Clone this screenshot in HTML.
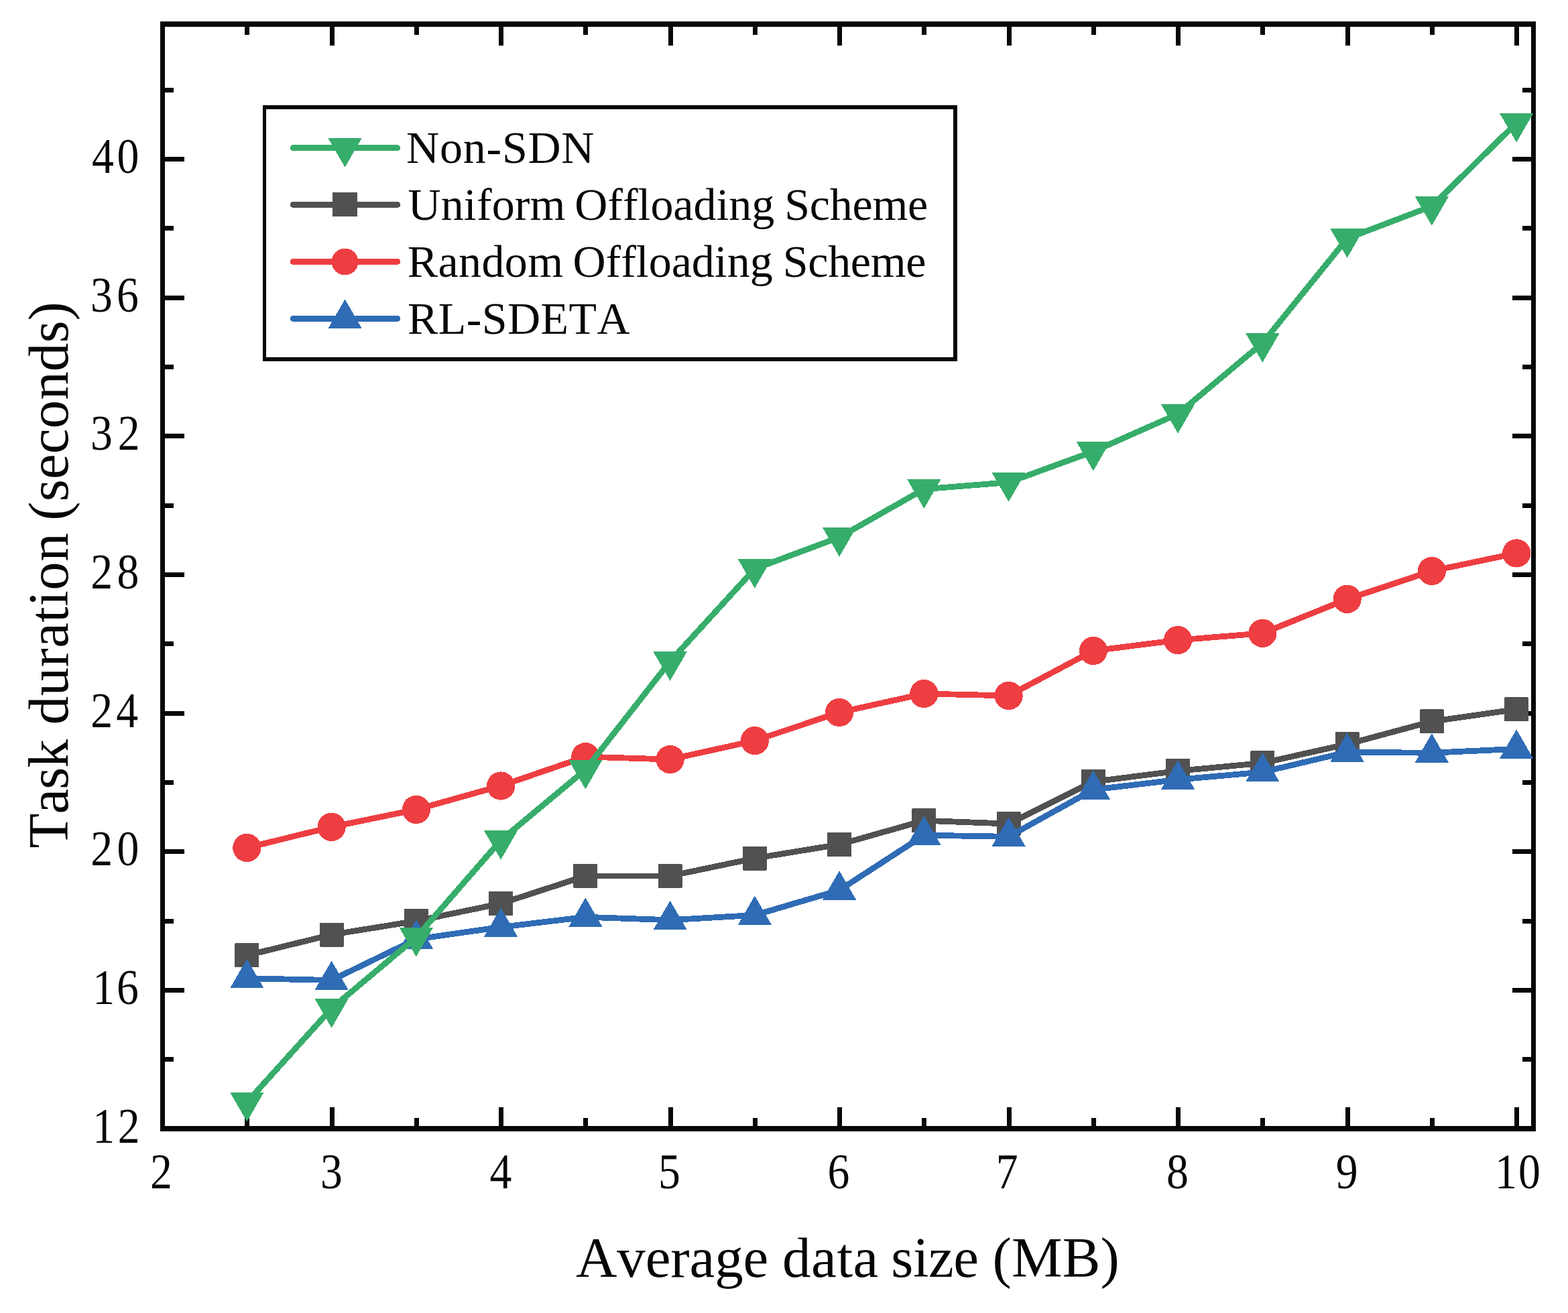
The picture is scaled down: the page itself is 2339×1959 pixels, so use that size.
<!DOCTYPE html>
<html><head><meta charset="utf-8"><title>Task duration vs average data size</title>
<style>
html,body{margin:0;padding:0;background:#fff;}
body{width:2339px;height:1959px;}
svg{display:block;}
text{font-family:"Liberation Serif","Times New Roman",serif;fill:#050706;font-kerning:none;white-space:pre;}
.tk{font-size:73px;}
.lg{font-size:68px;}
.ax{font-size:85px;}
</style></head><body>
<svg width="2339" height="1959" viewBox="0 0 2339 1959">
<rect width="2339" height="1959" fill="#fff"/>
<path d="M365,1668h7V1681h-7Z M365,39h7V52h-7Z M492,1652h7V1681h-7Z M492,39h7V68h-7Z M618,1668h7V1681h-7Z M618,39h7V52h-7Z M744,1652h7V1681h-7Z M744,39h7V68h-7Z M870,1668h7V1681h-7Z M870,39h7V52h-7Z M997,1652h7V1681h-7Z M997,39h7V68h-7Z M1123,1668h7V1681h-7Z M1123,39h7V52h-7Z M1249,1652h7V1681h-7Z M1249,39h7V68h-7Z M1375,1668h7V1681h-7Z M1375,39h7V52h-7Z M1502,1652h7V1681h-7Z M1502,39h7V68h-7Z M1628,1668h7V1681h-7Z M1628,39h7V52h-7Z M1754,1652h7V1681h-7Z M1754,39h7V68h-7Z M1880,1668h7V1681h-7Z M1880,39h7V52h-7Z M2007,1652h7V1681h-7Z M2007,39h7V68h-7Z M2133,1668h7V1681h-7Z M2133,39h7V52h-7Z M2259,1652h7V1681h-7Z M2259,39h7V68h-7Z M245,1577H259v7H245Z M2271,1577H2285v7H2271Z M245,1474H275v7H245Z M2256,1474H2285v7H2256Z M245,1371H259v7H245Z M2271,1371H2285v7H2271Z M245,1267H275v7H245Z M2256,1267H2285v7H2256Z M245,1164H259v7H245Z M2271,1164H2285v7H2271Z M245,1061H275v7H245Z M2256,1061H2285v7H2256Z M245,957H259v7H245Z M2271,957H2285v7H2271Z M245,854H275v7H245Z M2256,854H2285v7H2256Z M245,751H259v7H245Z M2271,751H2285v7H2271Z M245,647H275v7H245Z M2256,647H2285v7H2256Z M245,544H259v7H245Z M2271,544H2285v7H2271Z M245,441H275v7H245Z M2256,441H2285v7H2256Z M245,337H259v7H245Z M2271,337H2285v7H2271Z M245,234H275v7H245Z M2256,234H2285v7H2256Z M245,131H259v7H245Z M2271,131H2285v7H2271Z" fill="#050706"/>
<path d="M239,32H2291V1688H239Z M246,40V1680H2284V40Z" fill="#050706" fill-rule="evenodd"/>
<g fill="#515151" stroke="#515151" shape-rendering="crispEdges"><polyline points="368.35,1425.40 494.60,1394.50 620.85,1374.20 747.10,1348.10 873.35,1306.96 999.60,1306.96 1125.85,1280.56 1252.10,1259.98 1378.35,1224.30 1504.60,1229.10 1630.85,1166.20 1757.10,1150.30 1883.35,1138.40 2009.60,1110.30 2135.85,1076.40 2262.10,1058.40" fill="none" stroke-width="8.8" stroke-linejoin="round" stroke-linecap="round"/><rect x="350.35" y="1407.40" width="36.0" height="36.0" rx="1" stroke="none"/><rect x="476.60" y="1376.50" width="36.0" height="36.0" rx="1" stroke="none"/><rect x="602.85" y="1356.20" width="36.0" height="36.0" rx="1" stroke="none"/><rect x="729.10" y="1330.10" width="36.0" height="36.0" rx="1" stroke="none"/><rect x="855.35" y="1288.96" width="36.0" height="36.0" rx="1" stroke="none"/><rect x="981.60" y="1288.96" width="36.0" height="36.0" rx="1" stroke="none"/><rect x="1107.85" y="1262.56" width="36.0" height="36.0" rx="1" stroke="none"/><rect x="1234.10" y="1241.98" width="36.0" height="36.0" rx="1" stroke="none"/><rect x="1360.35" y="1206.30" width="36.0" height="36.0" rx="1" stroke="none"/><rect x="1486.60" y="1211.10" width="36.0" height="36.0" rx="1" stroke="none"/><rect x="1612.85" y="1148.20" width="36.0" height="36.0" rx="1" stroke="none"/><rect x="1739.10" y="1132.30" width="36.0" height="36.0" rx="1" stroke="none"/><rect x="1865.35" y="1120.40" width="36.0" height="36.0" rx="1" stroke="none"/><rect x="1991.60" y="1092.30" width="36.0" height="36.0" rx="1" stroke="none"/><rect x="2117.85" y="1058.40" width="36.0" height="36.0" rx="1" stroke="none"/><rect x="2244.10" y="1040.40" width="36.0" height="36.0" rx="1" stroke="none"/></g>
<g fill="#EE3E42" stroke="#EE3E42" shape-rendering="crispEdges"><polyline points="368.35,1264.90 494.60,1233.90 620.85,1207.90 747.10,1172.50 873.35,1129.10 999.60,1133.04 1125.85,1105.10 1252.10,1062.90 1378.35,1034.99 1504.60,1037.98 1630.85,970.94 1757.10,955.08 1883.35,944.80 2009.60,893.87 2135.85,851.90 2262.10,825.46" fill="none" stroke-width="8.8" stroke-linejoin="round" stroke-linecap="round"/><circle cx="368.35" cy="1264.90" r="21.1" stroke="none"/><circle cx="494.60" cy="1233.90" r="21.1" stroke="none"/><circle cx="620.85" cy="1207.90" r="21.1" stroke="none"/><circle cx="747.10" cy="1172.50" r="21.1" stroke="none"/><circle cx="873.35" cy="1129.10" r="21.1" stroke="none"/><circle cx="999.60" cy="1133.04" r="21.1" stroke="none"/><circle cx="1125.85" cy="1105.10" r="21.1" stroke="none"/><circle cx="1252.10" cy="1062.90" r="21.1" stroke="none"/><circle cx="1378.35" cy="1034.99" r="21.1" stroke="none"/><circle cx="1504.60" cy="1037.98" r="21.1" stroke="none"/><circle cx="1630.85" cy="970.94" r="21.1" stroke="none"/><circle cx="1757.10" cy="955.08" r="21.1" stroke="none"/><circle cx="1883.35" cy="944.80" r="21.1" stroke="none"/><circle cx="2009.60" cy="893.87" r="21.1" stroke="none"/><circle cx="2135.85" cy="851.90" r="21.1" stroke="none"/><circle cx="2262.10" cy="825.46" r="21.1" stroke="none"/></g>
<g fill="#2F6CB5" stroke="#2F6CB5" shape-rendering="crispEdges"><polyline points="368.35,1459.70 494.60,1462.50 620.85,1401.20 747.10,1383.30 873.35,1368.25 999.60,1372.70 1125.85,1365.40 1252.10,1328.15 1378.35,1246.15 1504.60,1248.30 1630.85,1178.20 1757.10,1163.25 1883.35,1151.90 2009.60,1122.20 2135.85,1123.30 2262.10,1117.35" fill="none" stroke-width="8.8" stroke-linejoin="round" stroke-linecap="round"/><polygon points="343.25,1474.19 393.45,1474.19 368.35,1430.72" stroke="none"/><polygon points="469.50,1476.99 519.70,1476.99 494.60,1433.52" stroke="none"/><polygon points="595.75,1415.69 645.95,1415.69 620.85,1372.22" stroke="none"/><polygon points="722.00,1397.79 772.20,1397.79 747.10,1354.32" stroke="none"/><polygon points="848.25,1382.74 898.45,1382.74 873.35,1339.27" stroke="none"/><polygon points="974.50,1387.19 1024.70,1387.19 999.60,1343.72" stroke="none"/><polygon points="1100.75,1379.89 1150.95,1379.89 1125.85,1336.42" stroke="none"/><polygon points="1227.00,1342.64 1277.20,1342.64 1252.10,1299.17" stroke="none"/><polygon points="1353.25,1260.64 1403.45,1260.64 1378.35,1217.17" stroke="none"/><polygon points="1479.50,1262.79 1529.70,1262.79 1504.60,1219.32" stroke="none"/><polygon points="1605.75,1192.69 1655.95,1192.69 1630.85,1149.22" stroke="none"/><polygon points="1732.00,1177.74 1782.20,1177.74 1757.10,1134.27" stroke="none"/><polygon points="1858.25,1166.39 1908.45,1166.39 1883.35,1122.92" stroke="none"/><polygon points="1984.50,1136.69 2034.70,1136.69 2009.60,1093.22" stroke="none"/><polygon points="2110.75,1137.79 2160.95,1137.79 2135.85,1094.32" stroke="none"/><polygon points="2237.00,1131.84 2287.20,1131.84 2262.10,1088.37" stroke="none"/></g>
<g fill="#37AD6B" stroke="#37AD6B" shape-rendering="crispEdges"><polyline points="368.35,1644.50 494.60,1504.60 620.85,1398.60 747.10,1253.65 873.35,1148.45 999.60,986.80 1125.85,848.70 1252.10,801.60 1378.35,729.80 1504.60,719.65 1630.85,673.65 1757.10,617.65 1883.35,511.85 2009.60,355.80 2135.85,307.65 2262.10,183.45" fill="none" stroke-width="8.8" stroke-linejoin="round" stroke-linecap="round"/><polygon points="343.25,1630.01 393.45,1630.01 368.35,1673.48" stroke="none"/><polygon points="469.50,1490.11 519.70,1490.11 494.60,1533.58" stroke="none"/><polygon points="595.75,1384.11 645.95,1384.11 620.85,1427.58" stroke="none"/><polygon points="722.00,1239.16 772.20,1239.16 747.10,1282.63" stroke="none"/><polygon points="848.25,1133.96 898.45,1133.96 873.35,1177.43" stroke="none"/><polygon points="974.50,972.31 1024.70,972.31 999.60,1015.78" stroke="none"/><polygon points="1100.75,834.21 1150.95,834.21 1125.85,877.68" stroke="none"/><polygon points="1227.00,787.11 1277.20,787.11 1252.10,830.58" stroke="none"/><polygon points="1353.25,715.31 1403.45,715.31 1378.35,758.78" stroke="none"/><polygon points="1479.50,705.16 1529.70,705.16 1504.60,748.63" stroke="none"/><polygon points="1605.75,659.16 1655.95,659.16 1630.85,702.63" stroke="none"/><polygon points="1732.00,603.16 1782.20,603.16 1757.10,646.63" stroke="none"/><polygon points="1858.25,497.36 1908.45,497.36 1883.35,540.83" stroke="none"/><polygon points="1984.50,341.31 2034.70,341.31 2009.60,384.78" stroke="none"/><polygon points="2110.75,293.16 2160.95,293.16 2135.85,336.63" stroke="none"/><polygon points="2237.00,168.96 2287.20,168.96 2262.10,212.43" stroke="none"/></g>
<text class="tk" transform="translate(0,1773.3) scale(0.9,1)"><tspan x="248.88" style="letter-spacing:0.000px">2</tspan></text><text class="tk" transform="translate(0,1773.3) scale(0.9,1)"><tspan x="531.09" style="letter-spacing:0.000px">3</tspan></text><text class="tk" transform="translate(0,1773.3) scale(0.9,1)"><tspan x="811.76" style="letter-spacing:0.000px">4</tspan></text><text class="tk" transform="translate(0,1773.3) scale(0.9,1)"><tspan x="1091.14" style="letter-spacing:0.000px">5</tspan></text><text class="tk" transform="translate(0,1773.3) scale(0.9,1)"><tspan x="1371.68" style="letter-spacing:0.000px">6</tspan></text><text class="tk" transform="translate(0,1773.3) scale(0.9,1)"><tspan x="1650.87" style="letter-spacing:0.000px">7</tspan></text><text class="tk" transform="translate(0,1773.3) scale(0.9,1)"><tspan x="1933.43" style="letter-spacing:0.000px">8</tspan></text><text class="tk" transform="translate(0,1773.3) scale(0.9,1)"><tspan x="2214.07" style="letter-spacing:0.000px">9</tspan></text><text class="tk" transform="translate(0,1773.3) scale(0.9,1)"><tspan x="2477.67" style="letter-spacing:2.458px">10</tspan></text><text class="tk" transform="translate(0,1704.60) scale(0.9,1)"><tspan x="153.61" style="letter-spacing:5.180px">12</tspan></text><text class="tk" transform="translate(0,1497.96) scale(0.9,1)"><tspan x="153.61" style="letter-spacing:3.355px">16</tspan></text><text class="tk" transform="translate(0,1291.32) scale(0.9,1)"><tspan x="150.27" style="letter-spacing:7.245px">20</tspan></text><text class="tk" transform="translate(0,1084.68) scale(0.9,1)"><tspan x="150.27" style="letter-spacing:5.602px">24</tspan></text><text class="tk" transform="translate(0,878.04) scale(0.9,1)"><tspan x="150.27" style="letter-spacing:7.245px">28</tspan></text><text class="tk" transform="translate(0,671.40) scale(0.9,1)"><tspan x="150.09" style="letter-spacing:8.705px">32</tspan></text><text class="tk" transform="translate(0,464.76) scale(0.9,1)"><tspan x="150.09" style="letter-spacing:6.880px">36</tspan></text><text class="tk" transform="translate(0,258.12) scale(0.9,1)"><tspan x="152.10" style="letter-spacing:5.420px">40</tspan></text>
<text class="ax" y="1904.7"><tspan x="859.05" style="letter-spacing:-0.102px">Average</tspan> <tspan x="1167.03" style="letter-spacing:0.571px">data</tspan> <tspan x="1329.30" style="letter-spacing:-0.500px">size</tspan> <tspan x="1480.38" style="letter-spacing:0.212px">(MB)</tspan></text>
<text class="ax" transform="translate(100.9,0) rotate(-90)"><tspan x="-1265.49" style="letter-spacing:-0.946px">Task</tspan> <tspan x="-1081.17" style="letter-spacing:0.370px">duration</tspan> <tspan x="-776.73" style="letter-spacing:0.111px">(seconds)</tspan></text>
<path d="M392,157H1428V539H392Z M397,163V533H1422V163Z" fill="#050706" fill-rule="evenodd"/>
<g fill="#37AD6B" stroke="#37AD6B" shape-rendering="crispEdges"><line x1="437.3" y1="220.6" x2="592.7" y2="220.6" stroke-width="8.8" stroke-linecap="round"/><polygon points="489.50,206.11 539.70,206.11 514.60,249.58" stroke="none"/></g><text class="lg" y="242.90"><tspan x="606.06" style="letter-spacing:0.772px">Non-SDN</tspan></text>
<g fill="#515151" stroke="#515151" shape-rendering="crispEdges"><line x1="437.3" y1="305.5" x2="592.7" y2="305.5" stroke-width="8.8" stroke-linecap="round"/><rect x="496" y="287" width="37" height="35.7" rx="1" stroke="none"/></g><text class="lg" y="327.80"><tspan x="608.54" style="letter-spacing:0.115px">Uniform</tspan> <tspan x="857.28" style="letter-spacing:-0.041px">Offloading</tspan> <tspan x="1170.31" style="letter-spacing:-0.250px">Scheme</tspan></text>
<g fill="#EE3E42" stroke="#EE3E42" shape-rendering="crispEdges"><line x1="437.3" y1="390.5" x2="592.7" y2="390.5" stroke-width="8.8" stroke-linecap="round"/><circle cx="514.60" cy="390.50" r="19.9" stroke="none"/></g><text class="lg" y="412.80"><tspan x="607.86" style="letter-spacing:0.362px">Random</tspan> <tspan x="854.38" style="letter-spacing:0.003px">Offloading</tspan> <tspan x="1167.81" style="letter-spacing:-0.330px">Scheme</tspan></text>
<g fill="#2F6CB5" stroke="#2F6CB5" shape-rendering="crispEdges"><line x1="437.3" y1="475.5" x2="592.7" y2="475.5" stroke-width="8.8" stroke-linecap="round"/><polygon points="489.50,489.99 539.70,489.99 514.60,446.52" stroke="none"/></g><text class="lg" y="497.80"><tspan x="607.96" style="letter-spacing:0.413px">RL-SDETA</tspan></text>
</svg></body></html>
